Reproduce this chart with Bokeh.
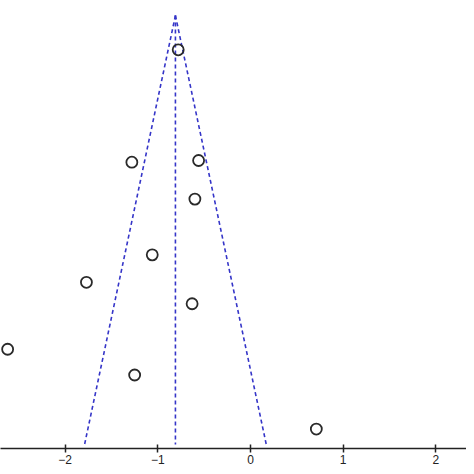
from bokeh.plotting import figure
from bokeh.models import Range1d, FixedTicker, ColumnDataSource
from bokeh.embed import file_html
from bokeh.resources import INLINE

# Study effects (log scale) and standard errors
effect = [-0.78, -1.28, -0.56, -0.60, -1.06, -1.77, -0.63, -2.62, -1.25, 0.71]
se = [0.040, 0.171, 0.169, 0.214, 0.279, 0.311, 0.336, 0.389, 0.419, 0.482]
summary_effect = -0.81
funnel_se = [0.0, 0.50]
x_ticks = [-2, -1, 0, 1, 2]

p = figure(frame_width=466, frame_height=448, output_backend="svg",
           toolbar_location=None, x_range=Range1d(-2.697, 2.330),
           y_range=Range1d(0.5047, -0.0175),
           min_border_left=0, min_border_right=0, min_border_top=0, min_border_bottom=0)
p.outline_line_color = None
p.xgrid.visible = False
p.ygrid.visible = False
p.yaxis.visible = False
p.background_fill_color = "white"
p.border_fill_color = "white"

ax = p.xaxis[0]
ax.ticker = FixedTicker(ticks=x_ticks)
ax.major_tick_in = 4
ax.major_tick_out = 4
ax.minor_tick_line_color = None
ax.axis_line_color = "#222222"
ax.axis_line_width = 1.5
ax.major_tick_line_color = "#222222"
ax.major_tick_line_width = 1.5
ax.major_label_text_font = "Liberation Sans"
ax.major_label_text_font_size = "12px"
ax.major_label_text_color = "#222222"
ax.major_label_standoff = 2

blue = "#3535c8"
lo = [summary_effect - 1.96 * s for s in funnel_se]
hi = [summary_effect + 1.96 * s for s in funnel_se]
p.line(lo, funnel_se, line_color=blue, line_dash="4 3", line_width=1.6)
p.line(hi, funnel_se, line_color=blue, line_dash="4 3", line_width=1.6)
p.line([summary_effect, summary_effect], funnel_se, line_color=blue, line_dash="4 3", line_width=1.6)

src = ColumnDataSource(dict(x=effect, y=se))
p.scatter("x", "y", source=src, size=11, fill_color=None, line_color="#2a2a2a", line_width=1.8)

open("out.html", "w").write(file_html(p, INLINE))
